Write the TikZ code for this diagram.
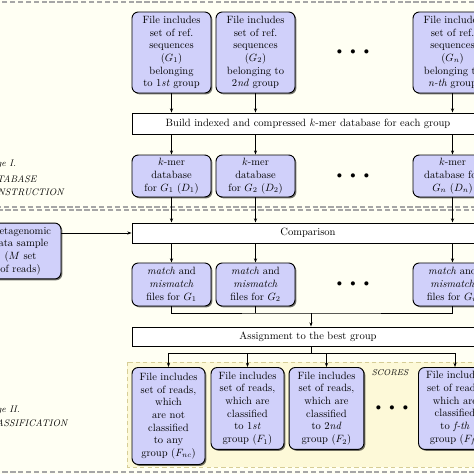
\documentclass[tikz,border=0pt]{standalone}
\usetikzlibrary{shadows,arrows.meta}
\definecolor{bgc}{RGB}{255,255,243}
\definecolor{lav}{RGB}{208,208,250}
\definecolor{scorefill}{RGB}{253,249,216}
\definecolor{scoreline}{RGB}{214,205,150}
\tikzset{
  shadowed/.style={drop shadow={shadow xshift=1.3pt,shadow yshift=-1.3pt,fill=black,opacity=0.55}},
  filebox/.style={draw, rounded corners=6pt, fill=lav, line width=0.9pt, align=center,
    inner sep=0pt, minimum width=74.9pt, shadowed},
  widebox/.style={draw, fill=white, line width=0.9pt, inner sep=0pt, minimum width=333.7pt, shadowed},
  arr/.style={-{Stealth[length=4pt,width=3pt]}, line width=0.6pt},
  conn/.style={line width=0.6pt},
  stageframe/.style={draw=black!35, dashed, dash pattern=on 5pt off 2.5pt, line width=1.4pt, fill=bgc},
  scoreframe/.style={draw=scoreline, dashed, dash pattern=on 4pt off 3pt, line width=0.8pt, fill=scorefill},
  stagelabel/.style={align=left, anchor=north west, font=\small\itshape, inner sep=0pt},
  dotsnode/.style={inner sep=0pt}
}
\begin{document}
\begin{tikzpicture}[x=0.948pt,y=-0.948pt]
\useasboundingbox (0,0) rectangle (474,474);
\clip (0,0) rectangle (474,474);
\fill[bgc] (0,0) rectangle (474,474);
\path[stageframe] (-60,2) rectangle (540,207);
\path[stageframe] (-60,210) rectangle (540,472);
\path[scoreframe] (127,362) rectangle (490,467);

% stage labels
\node[stagelabel] (st1) at (-17,160) {Stage I.\\[3.5pt]DATABASE\\[1.5pt]CONSTRUCTION};
\node[stagelabel] (st2) at (-17,406) {Stage II.\\[2pt]CLASSIFICATION};

% row 1
\node[filebox, minimum height=76.8pt] (g1) at (171.5,52.5) {File includes\\set of ref.\\sequences\\($G_1$)\\belonging\\to 1\textit{st} group};
\node[filebox, minimum height=76.8pt] (g2) at (255.5,52.5) {File includes\\set of ref.\\sequences\\($G_2$)\\belonging to\\2\textit{nd} group};
\node[filebox, minimum height=76.8pt] (gn) at (452.5,52.5) {File includes\\set of ref.\\sequences\\($G_n$)\\belonging to\\\textit{n-th} group};
\node[dotsnode] (d1) at (353,52) {$\bullet\;\;\bullet\;\;\bullet$};

% build
\node[widebox, minimum height=19.9pt] (build) at (308,123.5) {Build indexed and compressed $k$-mer database for each group};
\draw[arr] (g1) -- (g1 |- build.north);
\draw[arr] (g2) -- (g2 |- build.north);
\draw[arr] (gn) -- (gn |- build.north);

% row 2
\node[filebox, minimum height=39.8pt] (k1) at (171.5,176) {$k$-mer\\database\\for $G_1$ ($D_1$)};
\node[filebox, minimum height=39.8pt] (k2) at (255.5,176) {$k$-mer\\database\\for $G_2$ ($D_2$)};
\node[filebox, minimum height=39.8pt] (kn) at (452.5,176) {$k$-mer\\database for\\$G_n$ ($D_n$)};
\node[dotsnode] (d2) at (353,176) {$\bullet\;\;\bullet\;\;\bullet$};
\draw[arr] (build.south -| k1) -- (k1);
\draw[arr] (build.south -| k2) -- (k2);
\draw[arr] (build.south -| kn) -- (kn);

% comparison
\node[widebox, minimum height=19pt] (comp) at (308,233) {Comparison};
\draw[arr] (k1) -- (k1 |- comp.north);
\draw[arr] (k2) -- (k2 |- comp.north);
\draw[arr] (kn) -- (kn |- comp.north);

% metagenomic sample
\node[filebox, minimum width=76.8pt, minimum height=53pt] (meta) at (20.5,251) {Metagenomic\\data sample\\($M$ set\\of reads)};
\draw[arr, line width=0.8pt] (comp.west -| meta.east) -- (comp.west);

% row 3
\node[filebox, minimum height=40.8pt] (m1) at (171.5,284.5) {\textit{match} and\\\textit{mismatch}\\files for $G_1$};
\node[filebox, minimum height=40.8pt] (m2) at (255.5,284.5) {\textit{match} and\\\textit{mismatch}\\files for $G_2$};
\node[filebox, minimum height=40.8pt] (mn) at (452.5,284.5) {\textit{match} and\\\textit{mismatch}\\files for $G_n$};
\node[dotsnode] (d3) at (353,284.5) {$\bullet\;\;\bullet\;\;\bullet$};
\draw[arr] (comp.south -| m1) -- (m1);
\draw[arr] (comp.south -| m2) -- (m2);
\draw[arr] (comp.south -| mn) -- (mn);

% assignment
\node[widebox, minimum height=18pt] (assign) at (308,336.5) {Assignment to the best group};
\coordinate (j1) at (311,313);
\draw[conn] (m1.south) |- (j1) -| (mn.south);
\draw[conn] (m2.south) -- (m2.south |- j1);
\draw[arr] (j1) -- (j1 |- assign.north);

% row 4
\node[filebox, anchor=north, minimum width=69.2pt, minimum height=92pt] (fnc) at (168.5,367) {File includes\\set of reads,\\which\\are not\\classified\\to any\\group ($F_{nc}$)};
\node[filebox, anchor=north, minimum width=69.2pt, minimum height=77.7pt] (f1) at (247.5,367) {File includes\\set of reads,\\which are\\classified\\to 1\textit{st}\\group ($F_1$)};
\node[filebox, anchor=north, minimum width=71pt, minimum height=77.7pt] (f2) at (326.5,367) {File includes\\set of reads,\\which are\\classified\\to 2\textit{nd}\\group ($F_2$)};
\node[filebox, anchor=north, minimum width=69.2pt, minimum height=77.7pt] (ff) at (455,367) {File includes\\set of reads,\\which are\\classified\\to \textit{f-th}\\group ($F_f$)};
\node[dotsnode] (d4) at (392,408) {$\bullet\;\;\bullet\;\;\bullet$};
\node[inner sep=0pt, font=\footnotesize\itshape] (scores) at (390,373) {SCORES};
\coordinate (j2) at (311,353);
\draw[conn] (assign.south -| j2) -- (j2);
\draw[conn] (fnc.north |- j2) -- (ff.north |- j2);
\draw[arr] (fnc.north |- j2) -- (fnc.north);
\draw[arr] (f1.north |- j2) -- (f1.north);
\draw[arr] (f2.north |- j2) -- (f2.north);
\draw[arr] (ff.north |- j2) -- (ff.north);
\end{tikzpicture}
\end{document}
